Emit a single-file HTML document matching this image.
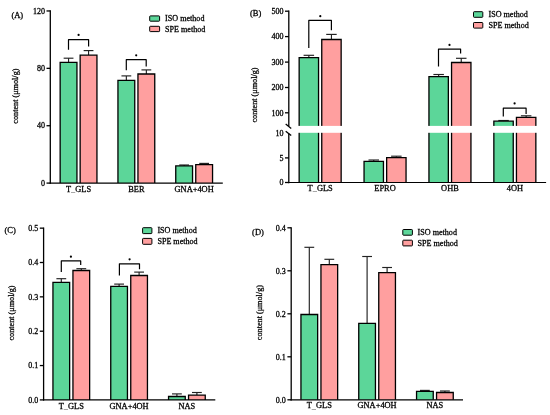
<!DOCTYPE html>
<html lang="en"><head><meta charset="utf-8"><title>Figure</title>
<style>
html,body{margin:0;padding:0;background:#fff;}
svg{display:block;}
text{font-family:"Liberation Serif",serif;font-size:8px;fill:#000;stroke:#000;stroke-width:0.28px;}
.pl{font-size:8.5px;}
.yl{font-size:8.2px;}
.xl{font-size:8.4px;}
.lg{font-size:8.1px;}
</style></head>
<body>
<svg width="550" height="415" viewBox="0 0 550 415">
<rect x="0" y="0" width="550" height="415" fill="#fff"/>
<text x="11.40" y="18.30" text-anchor="start" class="pl">(A)</text>
<text class="yl" transform="translate(18.00,96.10) rotate(-90)" text-anchor="middle">content (μmol/g)</text>
<line x1="68.55" y1="62.30" x2="68.55" y2="58.20" stroke="#222" stroke-width="1.15" stroke-linecap="butt"/>
<line x1="63.65" y1="58.20" x2="73.45" y2="58.20" stroke="#222" stroke-width="1.15" stroke-linecap="butt"/>
<line x1="88.55" y1="55.20" x2="88.55" y2="50.60" stroke="#222" stroke-width="1.15" stroke-linecap="butt"/>
<line x1="83.65" y1="50.60" x2="93.45" y2="50.60" stroke="#222" stroke-width="1.15" stroke-linecap="butt"/>
<path d="M60.15,183.10 V62.30 H76.95 V183.10" fill="#5cd699" stroke="#000" stroke-width="1.3" stroke-linejoin="miter"/>
<path d="M80.15,183.10 V55.20 H96.95 V183.10" fill="#ff9f9f" stroke="#000" stroke-width="1.3" stroke-linejoin="miter"/>
<line x1="126.35" y1="80.30" x2="126.35" y2="75.90" stroke="#222" stroke-width="1.15" stroke-linecap="butt"/>
<line x1="121.45" y1="75.90" x2="131.25" y2="75.90" stroke="#222" stroke-width="1.15" stroke-linecap="butt"/>
<line x1="146.35" y1="74.00" x2="146.35" y2="69.90" stroke="#222" stroke-width="1.15" stroke-linecap="butt"/>
<line x1="141.45" y1="69.90" x2="151.25" y2="69.90" stroke="#222" stroke-width="1.15" stroke-linecap="butt"/>
<path d="M117.95,183.10 V80.30 H134.75 V183.10" fill="#5cd699" stroke="#000" stroke-width="1.3" stroke-linejoin="miter"/>
<path d="M137.95,183.10 V74.00 H154.75 V183.10" fill="#ff9f9f" stroke="#000" stroke-width="1.3" stroke-linejoin="miter"/>
<line x1="184.15" y1="165.90" x2="184.15" y2="165.00" stroke="#222" stroke-width="1.15" stroke-linecap="butt"/>
<line x1="179.25" y1="165.00" x2="189.05" y2="165.00" stroke="#222" stroke-width="1.15" stroke-linecap="butt"/>
<line x1="204.15" y1="164.60" x2="204.15" y2="163.40" stroke="#222" stroke-width="1.15" stroke-linecap="butt"/>
<line x1="199.25" y1="163.40" x2="209.05" y2="163.40" stroke="#222" stroke-width="1.15" stroke-linecap="butt"/>
<path d="M175.75,183.10 V165.90 H192.55 V183.10" fill="#5cd699" stroke="#000" stroke-width="1.3" stroke-linejoin="miter"/>
<path d="M195.75,183.10 V164.60 H212.55 V183.10" fill="#ff9f9f" stroke="#000" stroke-width="1.3" stroke-linejoin="miter"/>
<line x1="50.30" y1="10.15" x2="50.30" y2="183.75" stroke="#000" stroke-width="1.3" stroke-linecap="butt"/>
<line x1="46.50" y1="183.10" x2="50.30" y2="183.10" stroke="#000" stroke-width="1.3" stroke-linecap="butt"/>
<text x="44.90" y="185.80" text-anchor="end" >0</text>
<line x1="46.50" y1="125.72" x2="50.30" y2="125.72" stroke="#000" stroke-width="1.3" stroke-linecap="butt"/>
<text x="44.90" y="128.42" text-anchor="end" >40</text>
<line x1="46.50" y1="68.34" x2="50.30" y2="68.34" stroke="#000" stroke-width="1.3" stroke-linecap="butt"/>
<text x="44.90" y="71.04" text-anchor="end" >80</text>
<line x1="46.50" y1="10.96" x2="50.30" y2="10.96" stroke="#000" stroke-width="1.3" stroke-linecap="butt"/>
<text x="44.90" y="13.66" text-anchor="end" >120</text>
<line x1="49.70" y1="183.10" x2="222.80" y2="183.10" stroke="#000" stroke-width="1.2" stroke-linecap="butt"/>
<text x="78.55" y="191.50" text-anchor="middle" class="xl">T<tspan dy="0.5" style="stroke:none;fill:#333">_</tspan><tspan dy="-0.5">GLS</tspan></text>
<text x="136.35" y="191.50" text-anchor="middle" class="xl">BER</text>
<text x="194.15" y="191.50" text-anchor="middle" class="xl">GNA+4OH</text>
<path d="M68.50,49.80 V39.70 H88.60 V46.40" fill="none" stroke="#000" stroke-width="1.2" stroke-linejoin="round"/>
<circle cx="78.60" cy="34.90" r="1.1" fill="#000"/>
<path d="M126.30,70.30 V59.70 H146.20 V66.50" fill="none" stroke="#000" stroke-width="1.2" stroke-linejoin="round"/>
<circle cx="136.20" cy="55.30" r="1.1" fill="#000"/>
<rect x="149.70" y="15.90" width="9.90" height="5.30" rx="0.7" ry="0.7" fill="#5cd699" stroke="#000" stroke-width="1"/>
<rect x="149.70" y="26.30" width="9.90" height="5.30" rx="0.7" ry="0.7" fill="#ff9f9f" stroke="#000" stroke-width="1"/>
<text x="165.10" y="20.90" text-anchor="start" class="lg">ISO method</text>
<text x="165.10" y="31.50" text-anchor="start" class="lg">SPE method</text>
<text x="249.90" y="15.90" text-anchor="start" class="pl">(B)</text>
<text class="yl" transform="translate(257.20,95.00) rotate(-90)" text-anchor="middle">content (μmol/g)</text>
<line x1="308.85" y1="57.60" x2="308.85" y2="55.30" stroke="#222" stroke-width="1.15" stroke-linecap="butt"/>
<line x1="303.60" y1="55.30" x2="314.10" y2="55.30" stroke="#222" stroke-width="1.15" stroke-linecap="butt"/>
<line x1="331.45" y1="39.50" x2="331.45" y2="34.40" stroke="#222" stroke-width="1.15" stroke-linecap="butt"/>
<line x1="326.20" y1="34.40" x2="336.70" y2="34.40" stroke="#222" stroke-width="1.15" stroke-linecap="butt"/>
<path d="M299.15,182.50 V57.60 H318.55 V182.50" fill="#5cd699" stroke="#000" stroke-width="1.3" stroke-linejoin="miter"/>
<path d="M321.75,182.50 V39.50 H341.15 V182.50" fill="#ff9f9f" stroke="#000" stroke-width="1.3" stroke-linejoin="miter"/>
<line x1="373.75" y1="161.30" x2="373.75" y2="160.00" stroke="#222" stroke-width="1.15" stroke-linecap="butt"/>
<line x1="368.50" y1="160.00" x2="379.00" y2="160.00" stroke="#222" stroke-width="1.15" stroke-linecap="butt"/>
<line x1="396.35" y1="157.70" x2="396.35" y2="156.20" stroke="#222" stroke-width="1.15" stroke-linecap="butt"/>
<line x1="391.10" y1="156.20" x2="401.60" y2="156.20" stroke="#222" stroke-width="1.15" stroke-linecap="butt"/>
<path d="M364.05,182.50 V161.30 H383.45 V182.50" fill="#5cd699" stroke="#000" stroke-width="1.3" stroke-linejoin="miter"/>
<path d="M386.65,182.50 V157.70 H406.05 V182.50" fill="#ff9f9f" stroke="#000" stroke-width="1.3" stroke-linejoin="miter"/>
<line x1="438.65" y1="76.70" x2="438.65" y2="74.50" stroke="#222" stroke-width="1.15" stroke-linecap="butt"/>
<line x1="433.40" y1="74.50" x2="443.90" y2="74.50" stroke="#222" stroke-width="1.15" stroke-linecap="butt"/>
<line x1="461.25" y1="62.50" x2="461.25" y2="58.30" stroke="#222" stroke-width="1.15" stroke-linecap="butt"/>
<line x1="456.00" y1="58.30" x2="466.50" y2="58.30" stroke="#222" stroke-width="1.15" stroke-linecap="butt"/>
<path d="M428.95,182.50 V76.70 H448.35 V182.50" fill="#5cd699" stroke="#000" stroke-width="1.3" stroke-linejoin="miter"/>
<path d="M451.55,182.50 V62.50 H470.95 V182.50" fill="#ff9f9f" stroke="#000" stroke-width="1.3" stroke-linejoin="miter"/>
<line x1="503.55" y1="121.20" x2="503.55" y2="120.50" stroke="#222" stroke-width="1.15" stroke-linecap="butt"/>
<line x1="498.30" y1="120.50" x2="508.80" y2="120.50" stroke="#222" stroke-width="1.15" stroke-linecap="butt"/>
<line x1="526.15" y1="117.40" x2="526.15" y2="115.80" stroke="#222" stroke-width="1.15" stroke-linecap="butt"/>
<line x1="520.90" y1="115.80" x2="531.40" y2="115.80" stroke="#222" stroke-width="1.15" stroke-linecap="butt"/>
<path d="M493.85,182.50 V121.20 H513.25 V182.50" fill="#5cd699" stroke="#000" stroke-width="1.3" stroke-linejoin="miter"/>
<path d="M516.45,182.50 V117.40 H535.85 V182.50" fill="#ff9f9f" stroke="#000" stroke-width="1.3" stroke-linejoin="miter"/>
<rect x="292" y="125.9" width="258" height="6.9" fill="#fff"/>
<line x1="288.80" y1="10.55" x2="288.80" y2="126.00" stroke="#000" stroke-width="1.3" stroke-linecap="butt"/>
<line x1="285.00" y1="11.20" x2="288.80" y2="11.20" stroke="#000" stroke-width="1.3" stroke-linecap="butt"/>
<text x="283.40" y="13.90" text-anchor="end" >500</text>
<line x1="285.00" y1="36.60" x2="288.80" y2="36.60" stroke="#000" stroke-width="1.3" stroke-linecap="butt"/>
<text x="283.40" y="39.30" text-anchor="end" >400</text>
<line x1="285.00" y1="62.10" x2="288.80" y2="62.10" stroke="#000" stroke-width="1.3" stroke-linecap="butt"/>
<text x="283.40" y="64.80" text-anchor="end" >300</text>
<line x1="285.00" y1="87.50" x2="288.80" y2="87.50" stroke="#000" stroke-width="1.3" stroke-linecap="butt"/>
<text x="283.40" y="90.20" text-anchor="end" >200</text>
<line x1="285.00" y1="112.80" x2="288.80" y2="112.80" stroke="#000" stroke-width="1.3" stroke-linecap="butt"/>
<text x="283.40" y="115.50" text-anchor="end" >100</text>
<line x1="285.70" y1="124.00" x2="291.20" y2="128.40" stroke="#000" stroke-width="1.3" stroke-linecap="butt"/>
<line x1="285.70" y1="131.20" x2="291.20" y2="135.60" stroke="#000" stroke-width="1.3" stroke-linecap="butt"/>
<line x1="288.80" y1="133.40" x2="288.80" y2="183.15" stroke="#000" stroke-width="1.3" stroke-linecap="butt"/>
<text x="283.40" y="135.60" text-anchor="end" >10</text>
<line x1="285.00" y1="157.90" x2="288.80" y2="157.90" stroke="#000" stroke-width="1.3" stroke-linecap="butt"/>
<text x="283.40" y="160.60" text-anchor="end" >5</text>
<line x1="285.00" y1="182.50" x2="288.80" y2="182.50" stroke="#000" stroke-width="1.3" stroke-linecap="butt"/>
<text x="283.40" y="185.20" text-anchor="end" >0</text>
<line x1="288.20" y1="182.50" x2="546.10" y2="182.50" stroke="#000" stroke-width="1.2" stroke-linecap="butt"/>
<text x="320.15" y="190.90" text-anchor="middle" class="xl">T<tspan dy="0.5" style="stroke:none;fill:#333">_</tspan><tspan dy="-0.5">GLS</tspan></text>
<text x="385.05" y="190.90" text-anchor="middle" class="xl">EPRO</text>
<text x="449.95" y="190.90" text-anchor="middle" class="xl">OHB</text>
<text x="514.85" y="190.90" text-anchor="middle" class="xl">4OH</text>
<path d="M308.80,48.10 V20.40 H331.40 V30.30" fill="none" stroke="#000" stroke-width="1.2" stroke-linejoin="round"/>
<circle cx="320.30" cy="16.20" r="1.1" fill="#000"/>
<path d="M438.50,66.50 V49.10 H460.60 V53.50" fill="none" stroke="#000" stroke-width="1.2" stroke-linejoin="round"/>
<circle cx="449.50" cy="44.90" r="1.1" fill="#000"/>
<path d="M503.30,116.50 V108.20 H526.10 V113.90" fill="none" stroke="#000" stroke-width="1.2" stroke-linejoin="round"/>
<circle cx="514.60" cy="103.40" r="1.1" fill="#000"/>
<rect x="473.50" y="11.70" width="9.30" height="5.60" rx="0.7" ry="0.7" fill="#5cd699" stroke="#000" stroke-width="1"/>
<rect x="473.50" y="22.50" width="9.30" height="5.60" rx="0.7" ry="0.7" fill="#ff9f9f" stroke="#000" stroke-width="1"/>
<text x="488.50" y="16.90" text-anchor="start" class="lg">ISO method</text>
<text x="488.50" y="27.70" text-anchor="start" class="lg">SPE method</text>
<text x="4.50" y="233.20" text-anchor="start" class="pl">(C)</text>
<text class="yl" transform="translate(13.60,313.00) rotate(-90)" text-anchor="middle">content (μmol/g)</text>
<line x1="61.30" y1="282.30" x2="61.30" y2="278.70" stroke="#222" stroke-width="1.15" stroke-linecap="butt"/>
<line x1="56.40" y1="278.70" x2="66.20" y2="278.70" stroke="#222" stroke-width="1.15" stroke-linecap="butt"/>
<line x1="81.30" y1="270.50" x2="81.30" y2="268.70" stroke="#222" stroke-width="1.15" stroke-linecap="butt"/>
<line x1="76.40" y1="268.70" x2="86.20" y2="268.70" stroke="#222" stroke-width="1.15" stroke-linecap="butt"/>
<path d="M52.95,399.90 V282.30 H69.65 V399.90" fill="#5cd699" stroke="#000" stroke-width="1.3" stroke-linejoin="miter"/>
<path d="M72.95,399.90 V270.50 H89.65 V399.90" fill="#ff9f9f" stroke="#000" stroke-width="1.3" stroke-linejoin="miter"/>
<line x1="119.10" y1="286.40" x2="119.10" y2="284.10" stroke="#222" stroke-width="1.15" stroke-linecap="butt"/>
<line x1="114.20" y1="284.10" x2="124.00" y2="284.10" stroke="#222" stroke-width="1.15" stroke-linecap="butt"/>
<line x1="139.10" y1="275.50" x2="139.10" y2="272.10" stroke="#222" stroke-width="1.15" stroke-linecap="butt"/>
<line x1="134.20" y1="272.10" x2="144.00" y2="272.10" stroke="#222" stroke-width="1.15" stroke-linecap="butt"/>
<path d="M110.75,399.90 V286.40 H127.45 V399.90" fill="#5cd699" stroke="#000" stroke-width="1.3" stroke-linejoin="miter"/>
<path d="M130.75,399.90 V275.50 H147.45 V399.90" fill="#ff9f9f" stroke="#000" stroke-width="1.3" stroke-linejoin="miter"/>
<line x1="176.90" y1="396.50" x2="176.90" y2="393.90" stroke="#222" stroke-width="1.15" stroke-linecap="butt"/>
<line x1="172.00" y1="393.90" x2="181.80" y2="393.90" stroke="#222" stroke-width="1.15" stroke-linecap="butt"/>
<line x1="196.90" y1="395.10" x2="196.90" y2="392.50" stroke="#222" stroke-width="1.15" stroke-linecap="butt"/>
<line x1="192.00" y1="392.50" x2="201.80" y2="392.50" stroke="#222" stroke-width="1.15" stroke-linecap="butt"/>
<path d="M168.55,399.90 V396.50 H185.25 V399.90" fill="#5cd699" stroke="#000" stroke-width="1.3" stroke-linejoin="miter"/>
<path d="M188.55,399.90 V395.10 H205.25 V399.90" fill="#ff9f9f" stroke="#000" stroke-width="1.3" stroke-linejoin="miter"/>
<line x1="43.60" y1="227.50" x2="43.60" y2="400.55" stroke="#000" stroke-width="1.3" stroke-linecap="butt"/>
<line x1="39.80" y1="399.90" x2="43.60" y2="399.90" stroke="#000" stroke-width="1.3" stroke-linecap="butt"/>
<text x="38.20" y="402.60" text-anchor="end" >0.0</text>
<line x1="39.80" y1="365.55" x2="43.60" y2="365.55" stroke="#000" stroke-width="1.3" stroke-linecap="butt"/>
<text x="38.20" y="368.25" text-anchor="end" >0.1</text>
<line x1="39.80" y1="331.20" x2="43.60" y2="331.20" stroke="#000" stroke-width="1.3" stroke-linecap="butt"/>
<text x="38.20" y="333.90" text-anchor="end" >0.2</text>
<line x1="39.80" y1="296.85" x2="43.60" y2="296.85" stroke="#000" stroke-width="1.3" stroke-linecap="butt"/>
<text x="38.20" y="299.55" text-anchor="end" >0.3</text>
<line x1="39.80" y1="262.50" x2="43.60" y2="262.50" stroke="#000" stroke-width="1.3" stroke-linecap="butt"/>
<text x="38.20" y="265.20" text-anchor="end" >0.4</text>
<line x1="39.80" y1="228.15" x2="43.60" y2="228.15" stroke="#000" stroke-width="1.3" stroke-linecap="butt"/>
<text x="38.20" y="230.85" text-anchor="end" >0.5</text>
<line x1="43.00" y1="399.90" x2="215.30" y2="399.90" stroke="#000" stroke-width="1.2" stroke-linecap="butt"/>
<text x="71.30" y="408.60" text-anchor="middle" class="xl">T<tspan dy="0.5" style="stroke:none;fill:#333">_</tspan><tspan dy="-0.5">GLS</tspan></text>
<text x="129.10" y="408.60" text-anchor="middle" class="xl">GNA+4OH</text>
<text x="186.90" y="408.60" text-anchor="middle" class="xl">NAS</text>
<path d="M61.30,272.10 V260.90 H80.70 V265.10" fill="none" stroke="#000" stroke-width="1.2" stroke-linejoin="round"/>
<circle cx="70.90" cy="256.70" r="1.1" fill="#000"/>
<path d="M119.40,275.50 V263.80 H139.50 V269.20" fill="none" stroke="#000" stroke-width="1.2" stroke-linejoin="round"/>
<circle cx="129.60" cy="259.30" r="1.1" fill="#000"/>
<rect x="142.60" y="227.70" width="9.30" height="5.90" rx="0.7" ry="0.7" fill="#5cd699" stroke="#000" stroke-width="1"/>
<rect x="142.60" y="238.40" width="9.30" height="5.90" rx="0.7" ry="0.7" fill="#ff9f9f" stroke="#000" stroke-width="1"/>
<text x="157.40" y="233.20" text-anchor="start" class="lg">ISO method</text>
<text x="157.40" y="243.60" text-anchor="start" class="lg">SPE method</text>
<text x="252.10" y="234.70" text-anchor="start" class="pl">(D)</text>
<text class="yl" transform="translate(262.00,312.60) rotate(-90)" text-anchor="middle">content (μmol/g)</text>
<line x1="309.30" y1="314.50" x2="309.30" y2="247.30" stroke="#222" stroke-width="1.15" stroke-linecap="butt"/>
<line x1="304.40" y1="247.30" x2="314.20" y2="247.30" stroke="#222" stroke-width="1.15" stroke-linecap="butt"/>
<line x1="329.30" y1="264.70" x2="329.30" y2="259.30" stroke="#222" stroke-width="1.15" stroke-linecap="butt"/>
<line x1="324.40" y1="259.30" x2="334.20" y2="259.30" stroke="#222" stroke-width="1.15" stroke-linecap="butt"/>
<path d="M300.95,399.80 V314.50 H317.65 V399.80" fill="#5cd699" stroke="#000" stroke-width="1.3" stroke-linejoin="miter"/>
<path d="M320.95,399.80 V264.70 H337.65 V399.80" fill="#ff9f9f" stroke="#000" stroke-width="1.3" stroke-linejoin="miter"/>
<line x1="367.10" y1="323.30" x2="367.10" y2="256.50" stroke="#222" stroke-width="1.15" stroke-linecap="butt"/>
<line x1="362.20" y1="256.50" x2="372.00" y2="256.50" stroke="#222" stroke-width="1.15" stroke-linecap="butt"/>
<line x1="387.10" y1="272.60" x2="387.10" y2="267.50" stroke="#222" stroke-width="1.15" stroke-linecap="butt"/>
<line x1="382.20" y1="267.50" x2="392.00" y2="267.50" stroke="#222" stroke-width="1.15" stroke-linecap="butt"/>
<path d="M358.75,399.80 V323.30 H375.45 V399.80" fill="#5cd699" stroke="#000" stroke-width="1.3" stroke-linejoin="miter"/>
<path d="M378.75,399.80 V272.60 H395.45 V399.80" fill="#ff9f9f" stroke="#000" stroke-width="1.3" stroke-linejoin="miter"/>
<line x1="424.90" y1="391.30" x2="424.90" y2="390.40" stroke="#222" stroke-width="1.15" stroke-linecap="butt"/>
<line x1="420.00" y1="390.40" x2="429.80" y2="390.40" stroke="#222" stroke-width="1.15" stroke-linecap="butt"/>
<line x1="444.90" y1="392.50" x2="444.90" y2="391.00" stroke="#222" stroke-width="1.15" stroke-linecap="butt"/>
<line x1="440.00" y1="391.00" x2="449.80" y2="391.00" stroke="#222" stroke-width="1.15" stroke-linecap="butt"/>
<path d="M416.55,399.80 V391.30 H433.25 V399.80" fill="#5cd699" stroke="#000" stroke-width="1.3" stroke-linejoin="miter"/>
<path d="M436.55,399.80 V392.50 H453.25 V399.80" fill="#ff9f9f" stroke="#000" stroke-width="1.3" stroke-linejoin="miter"/>
<line x1="291.20" y1="227.15" x2="291.20" y2="400.45" stroke="#000" stroke-width="1.3" stroke-linecap="butt"/>
<line x1="287.40" y1="399.80" x2="291.20" y2="399.80" stroke="#000" stroke-width="1.3" stroke-linecap="butt"/>
<text x="285.80" y="402.50" text-anchor="end" >0.0</text>
<line x1="287.40" y1="356.80" x2="291.20" y2="356.80" stroke="#000" stroke-width="1.3" stroke-linecap="butt"/>
<text x="285.80" y="359.50" text-anchor="end" >0.1</text>
<line x1="287.40" y1="313.80" x2="291.20" y2="313.80" stroke="#000" stroke-width="1.3" stroke-linecap="butt"/>
<text x="285.80" y="316.50" text-anchor="end" >0.2</text>
<line x1="287.40" y1="270.80" x2="291.20" y2="270.80" stroke="#000" stroke-width="1.3" stroke-linecap="butt"/>
<text x="285.80" y="273.50" text-anchor="end" >0.3</text>
<line x1="287.40" y1="227.80" x2="291.20" y2="227.80" stroke="#000" stroke-width="1.3" stroke-linecap="butt"/>
<text x="285.80" y="230.50" text-anchor="end" >0.4</text>
<line x1="290.60" y1="399.80" x2="463.00" y2="399.80" stroke="#000" stroke-width="1.2" stroke-linecap="butt"/>
<text x="319.30" y="408.30" text-anchor="middle" class="xl">T<tspan dy="0.5" style="stroke:none;fill:#333">_</tspan><tspan dy="-0.5">GLS</tspan></text>
<text x="377.10" y="408.30" text-anchor="middle" class="xl">GNA+4OH</text>
<text x="434.90" y="408.30" text-anchor="middle" class="xl">NAS</text>
<rect x="402.80" y="229.50" width="9.60" height="5.70" rx="0.7" ry="0.7" fill="#5cd699" stroke="#000" stroke-width="1"/>
<rect x="402.80" y="240.20" width="9.60" height="5.70" rx="0.7" ry="0.7" fill="#ff9f9f" stroke="#000" stroke-width="1"/>
<text x="417.60" y="234.70" text-anchor="start" class="lg">ISO method</text>
<text x="417.60" y="245.50" text-anchor="start" class="lg">SPE method</text>
</svg>
</body></html>
